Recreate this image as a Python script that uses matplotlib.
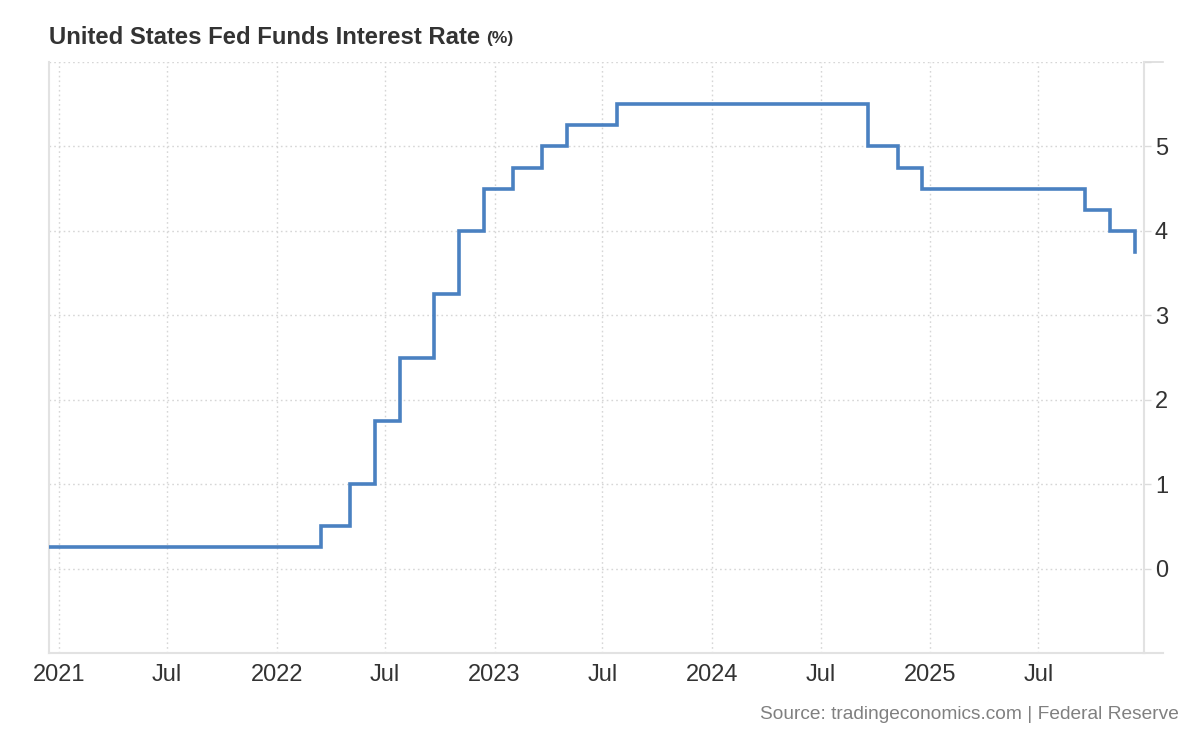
import matplotlib
matplotlib.use("Agg")
import matplotlib.pyplot as plt
import pandas as pd

# FOMC decision dates and upper bound of the target range (%)
dates = ["2020-12-16", "2022-03-16", "2022-05-04", "2022-06-15", "2022-07-27",
         "2022-09-21", "2022-11-02", "2022-12-14", "2023-02-01", "2023-03-22",
         "2023-05-03", "2023-07-26", "2024-09-18", "2024-11-07", "2024-12-18",
         "2025-09-17", "2025-10-29", "2025-12-10"]
rates = [0.25, 0.50, 1.00, 1.75, 2.50, 3.25, 4.00, 4.50, 4.75, 5.00,
         5.25, 5.50, 5.00, 4.75, 4.50, 4.25, 4.00, 3.75]

x_ticks = ["2021-01-01", "2021-07-01", "2022-01-01", "2022-07-01", "2023-01-01",
           "2023-07-01", "2024-01-01", "2024-07-01", "2025-01-01", "2025-07-01"]
x_labels = ["2021", "Jul", "2022", "Jul", "2023", "Jul", "2024", "Jul", "2025", "Jul"]
y_ticks = [0, 1, 2, 3, 4, 5, 6]
y_labels = ["0", "1", "2", "3", "4", "5", ""]

plt.rcParams["font.family"] = ["Liberation Sans", "DejaVu Sans"]

d = pd.to_datetime(dates)
fig = plt.figure(figsize=(12, 7.35), dpi=100)
ax = fig.add_axes([0.041, 0.1116, 0.9127, 0.804])

ax.plot(d, rates, drawstyle="steps-post", color="#4a81c1", lw=2.6,
        solid_joinstyle="miter", zorder=3)

ax.set_xlim(pd.Timestamp("2020-12-15"), pd.Timestamp("2025-12-26"))
ax.set_ylim(-1, 6)

ax.set_xticks(pd.to_datetime(x_ticks))
ax.set_xticklabels(x_labels)
ax.yaxis.tick_right()
ax.set_yticks(y_ticks)
ax.set_yticklabels(y_labels)

grid_c = "#d6d6d6"
ax.grid(True, color=grid_c, ls=(0, (1.2, 2.2)), lw=1.0, zorder=0)
ax.tick_params(axis="x", length=0, pad=8, labelsize=17, labelcolor="#333333")
ax.tick_params(axis="y", length=5, width=1, color="#dcdcdc", pad=2.5,
               labelsize=17, labelcolor="#333333")

ax.spines["top"].set_visible(False)
for s in ["left", "right", "bottom"]:
    ax.spines[s].set_color("#e2e2e2")
    ax.spines[s].set_linewidth(1.5)

# extended top/bottom edge lines past the right axis
ax.plot([1.0, 1.0165], [1.0, 1.0], transform=ax.transAxes, color="#dcdcdc",
        lw=1.2, clip_on=False)
ax.plot([1.0, 1.0165], [0.0, 0.0], transform=ax.transAxes, color="#e2e2e2",
        lw=1.5, clip_on=False)

title = fig.text(0.041, 0.949, "United States Fed Funds Interest Rate",
                 fontsize=17.2, fontweight="bold", color="#333333",
                 va="center", ha="left")
fig.canvas.draw()
bb = title.get_window_extent().transformed(fig.transFigure.inverted())
fig.text(bb.x1 + 0.005, 0.947, "(%)", fontsize=12.5, fontweight="bold",
         color="#333333", va="center", ha="left")
fig.text(0.982, 0.028, "Source: tradingeconomics.com | Federal Reserve",
         fontsize=13.8, color="#808080", ha="right", va="center")

fig.savefig("out.png", dpi=100)
